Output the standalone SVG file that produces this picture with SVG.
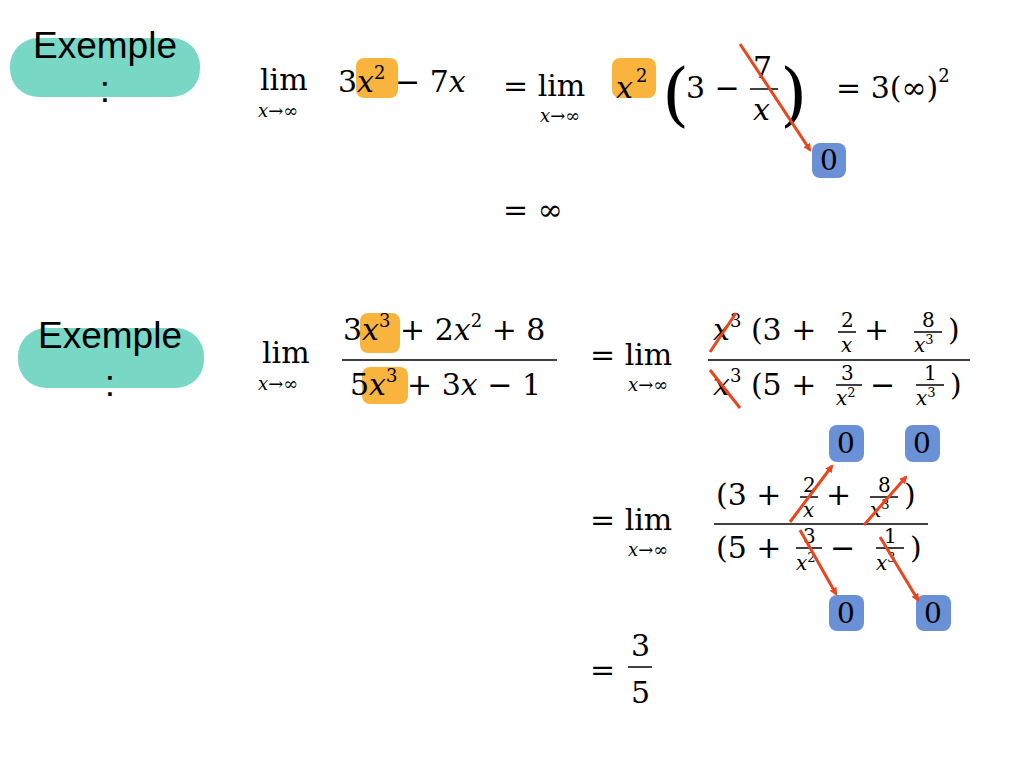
<svg xmlns="http://www.w3.org/2000/svg" width="1024" height="768" viewBox="0 0 1024 768">
<style>
.lbl{fill:#79d7c5}
.lt{font-family:"Liberation Sans",Arial,sans-serif;font-size:37px;fill:#000;text-anchor:middle}
.m{font-family:"DejaVu Serif","Liberation Serif",serif;font-size:30px;fill:#000}
.s{font-family:"DejaVu Serif","Liberation Serif",serif;font-size:18px;fill:#000}
.t{font-family:"DejaVu Serif","Liberation Serif",serif;font-size:20px;fill:#000}
.i{font-style:italic}
.hl{fill:#f9b43d}
.z{fill:#6a90d6}
.zt{font-family:"DejaVu Serif","Liberation Serif",serif;font-size:28px;fill:#000;text-anchor:middle}
.ar{stroke:#e8461e;stroke-width:3;fill:none}
.fl{stroke:#000;stroke-width:1.5}
</style>
<defs><marker id="ah" markerWidth="8" markerHeight="8" refX="6" refY="4" orient="auto" markerUnits="userSpaceOnUse"><path d="M0,0 L8,4 L0,8 z" fill="#e8461e"/></marker></defs>
<rect width="1024" height="768" fill="#fff"/>
<g id="label1"><rect class="lbl" x="10" y="38" width="190" height="59" rx="28"/><text class="lt" x="105" y="58">Exemple</text><text class="lt" x="105" y="102">:</text></g>
<g id="label2"><rect class="lbl" x="18" y="328" width="186" height="60" rx="28"/><text class="lt" x="110" y="348">Exemple</text><text class="lt" x="110" y="396">:</text></g>
<g id="highlights">
<rect class="hl" x="356" y="58" width="42" height="40" rx="8"/>
<rect class="hl" x="612" y="58" width="44" height="40" rx="8"/>
<rect class="hl" x="360" y="313" width="40" height="40" rx="8"/>
<rect class="hl" x="362" y="367" width="46" height="37" rx="8"/>
</g>
<g id="eq1">
<text class="m" x="260" y="90">lim</text><text class="s" x="258" y="117"><tspan class="i">x</tspan>→∞</text>
<text class="m" x="338" y="92">3<tspan class="i">x</tspan><tspan class="s" dy="-13">2</tspan><tspan dy="13"> − 7</tspan><tspan class="i">x</tspan></text>
<text class="m" x="503" y="96">= lim</text><text class="s" x="540" y="122"><tspan class="i">x</tspan>→∞</text>
<text class="m i" x="616" y="98">x</text><text class="s" x="636" y="82">2</text>
<text class="m" x="662" y="118" style="font-size:70px">(</text>
<text class="m" x="686" y="98">3 −</text>
<text class="m" x="753" y="78">7</text><line class="fl" x1="750" y1="89" x2="778" y2="89"/><text class="m i" x="753" y="120">x</text>
<text class="m" x="780" y="118" style="font-size:70px">)</text>
<text class="m" x="836" y="98">= 3(∞)<tspan class="s" dy="-16">2</tspan></text>
<text class="m" x="503" y="220">= ∞</text>
</g>
<g id="eq2">
<text class="m" x="262" y="363">lim</text><text class="s" x="258" y="390"><tspan class="i">x</tspan>→∞</text>
<text class="m" x="343" y="340">3<tspan class="i">x</tspan><tspan class="s" dy="-13">3</tspan><tspan dy="13"> + 2</tspan><tspan class="i">x</tspan><tspan class="s" dy="-13">2</tspan><tspan dy="13"> + 8</tspan></text>
<line class="fl" x1="342" y1="360" x2="557" y2="360"/>
<text class="m" x="350" y="395">5<tspan class="i">x</tspan><tspan class="s" dy="-13">3</tspan><tspan dy="13"> + 3</tspan><tspan class="i">x</tspan><tspan> − 1</tspan></text>
<text class="m" x="590" y="365">= lim</text><text class="s" x="628" y="391"><tspan class="i">x</tspan>→∞</text>
<text class="m" x="713" y="340"><tspan class="i">x</tspan><tspan class="s" dy="-13">3</tspan><tspan dy="13"> (3 + </tspan></text>
<text class="t" x="841" y="327">2</text><line class="fl" x1="838" y1="332" x2="856" y2="332"/><text class="t i" x="841" y="352">x</text>
<text class="m" x="864" y="340">+</text>
<text class="t" x="922" y="327">8</text><line class="fl" x1="914" y1="332" x2="942" y2="332"/><text class="t" x="914" y="352"><tspan class="i">x</tspan><tspan font-size="13" dy="-8">3</tspan></text>
<text class="m" x="948" y="340">)</text>
<line class="fl" x1="708" y1="360" x2="970" y2="360"/>
<text class="m" x="713" y="395"><tspan class="i">x</tspan><tspan class="s" dy="-13">3</tspan><tspan dy="13"> (5 + </tspan></text>
<text class="t" x="841" y="380">3</text><line class="fl" x1="836" y1="385" x2="862" y2="385"/><text class="t" x="836" y="405"><tspan class="i">x</tspan><tspan font-size="13" dy="-8">2</tspan></text>
<text class="m" x="870" y="395">−</text>
<text class="t" x="924" y="380">1</text><line class="fl" x1="916" y1="385" x2="944" y2="385"/><text class="t" x="916" y="405"><tspan class="i">x</tspan><tspan font-size="13" dy="-8">3</tspan></text>
<text class="m" x="950" y="395">)</text>
<text class="m" x="590" y="530">= lim</text><text class="s" x="628" y="556"><tspan class="i">x</tspan>→∞</text>
<text class="m" x="716" y="505">(3 + </text>
<text class="t" x="803" y="492">2</text><line class="fl" x1="800" y1="497" x2="818" y2="497"/><text class="t i" x="803" y="517">x</text>
<text class="m" x="826" y="505">+</text>
<text class="t" x="878" y="492">8</text><line class="fl" x1="870" y1="497" x2="898" y2="497"/><text class="t" x="870" y="517"><tspan class="i">x</tspan><tspan font-size="13" dy="-8">3</tspan></text>
<text class="m" x="904" y="505">)</text>
<line class="fl" x1="714" y1="524" x2="928" y2="524"/>
<text class="m" x="716" y="558">(5 + </text>
<text class="t" x="803" y="543">3</text><line class="fl" x1="796" y1="548" x2="822" y2="548"/><text class="t" x="796" y="570"><tspan class="i">x</tspan><tspan font-size="13" dy="-8">2</tspan></text>
<text class="m" x="830" y="558">−</text>
<text class="t" x="884" y="543">1</text><line class="fl" x1="876" y1="548" x2="904" y2="548"/><text class="t" x="876" y="570"><tspan class="i">x</tspan><tspan font-size="13" dy="-8">3</tspan></text>
<text class="m" x="910" y="558">)</text>
<text class="m" x="590" y="680">=</text>
<text class="m" x="631" y="656">3</text><line class="fl" x1="628" y1="667" x2="652" y2="667"/><text class="m" x="631" y="703">5</text>
</g>
<g id="zeros">
<rect class="z" x="812" y="143" width="34" height="35" rx="8"/><text class="zt" x="829" y="170">0</text>
<rect class="z" x="829" y="425" width="35" height="37" rx="8"/><text class="zt" x="846" y="453">0</text>
<rect class="z" x="905" y="425" width="35" height="37" rx="8"/><text class="zt" x="922" y="453">0</text>
<rect class="z" x="829" y="595" width="35" height="36" rx="8"/><text class="zt" x="846" y="623">0</text>
<rect class="z" x="916" y="595" width="35" height="36" rx="8"/><text class="zt" x="933" y="623">0</text>
</g>
<g id="connectors">
<line class="ar" x1="740" y1="44" x2="810" y2="150" marker-end="url(#ah)"/>
<line class="ar" x1="736" y1="313" x2="710" y2="352"/>
<line class="ar" x1="710" y1="370" x2="740" y2="408"/>
<line class="ar" x1="790" y1="522" x2="832" y2="466" marker-end="url(#ah)"/>
<line class="ar" x1="864" y1="525" x2="906" y2="477" marker-end="url(#ah)"/>
<line class="ar" x1="800" y1="530" x2="836" y2="594" marker-end="url(#ah)"/>
<line class="ar" x1="880" y1="537" x2="918" y2="600" marker-end="url(#ah)"/>
</g>
</svg>
